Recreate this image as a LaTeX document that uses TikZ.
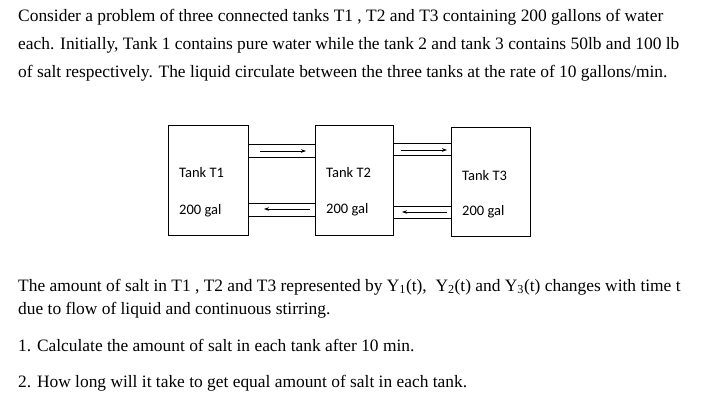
\documentclass[tikz,border=0pt]{standalone}
\usepackage{fontspec}
\usetikzlibrary{arrows.meta}
\setmainfont{Liberation Serif}
\newfontfamily\calib{Carlito}
\begin{document}
\begin{tikzpicture}[x=1pt,y=-1pt,
  tank/.style={draw,line width=0.9pt},
  pipe/.style={draw,line width=0.6pt},
  flow/.style={-{Stealth[length=5pt,width=3.5pt]},line width=0.6pt},
  body/.style={anchor=base west,inner sep=0pt,font=\fontsize{17.4}{20}\selectfont},
  lab/.style={anchor=base west,inner sep=0pt,font=\calib\fontsize{14.5}{16}\selectfont}]
\useasboundingbox (0,0) rectangle (722,417);
\node[body] (l1) at (18,22) {Consider a problem of three connected tanks T1 , T2 and T3 containing 200 gallons of water};
\node[body] (l2) at (18,50) {each. Initially, Tank 1 contains pure water while the tank 2 and tank 3 contains 50lb and 100 lb};
\node[body] (l3) at (18,78) {of salt respectively. The liquid circulate between the three tanks at the rate of 10 gallons/min.};
% tanks
\draw[tank] (168,125) rectangle (248,235);
\draw[tank] (315,125) rectangle (393,235);
\draw[tank] (451,127) rectangle (530,236);
\node[lab] (t1) at (179,177) {Tank T1};
\node[lab] (g1) at (179,214) {200 gal};
\node[lab] (t2) at (326,177) {Tank T2};
\node[lab] (g2) at (326,213) {200 gal};
\node[lab] (t3) at (462,180) {Tank T3};
\node[lab] (g3) at (462,215) {200 gal};
% pipes
\draw[pipe] (248,144) -- (315,144) (248,157) -- (315,157);
\draw[pipe] (248,203) -- (315,203) (248,216) -- (315,216);
\draw[pipe] (393,143) -- (451,143) (393,155) -- (451,155);
\draw[pipe] (393,206) -- (451,206) (393,218) -- (451,218);
\coordinate (a1) at (260,151); \coordinate (b1) at (306,151);
\coordinate (a2) at (310,209); \coordinate (b2) at (264,209);
\coordinate (a3) at (401,150); \coordinate (b3) at (447,150);
\coordinate (a4) at (447,212); \coordinate (b4) at (402,212);
\draw[flow] (a1) -- (b1);
\draw[flow] (a2) -- (b2);
\draw[flow] (a3) -- (b3);
\draw[flow] (a4) -- (b4);
\node[body] (l4) at (18,291) {The amount of salt in T1 , T2 and T3 represented by Y\textsubscript{1}(t),\ \ Y\textsubscript{2}(t) and Y\textsubscript{3}(t) changes with time t};
\node[body] (l5) at (18,314) {due to flow of liquid and continuous stirring.};
\node[body] (l6) at (18,351) {1. Calculate the amount of salt in each tank after 10 min.};
\node[body] (l7) at (18,387) {2. How long will it take to get equal amount of salt in each tank.};
\end{tikzpicture}
\end{document}
